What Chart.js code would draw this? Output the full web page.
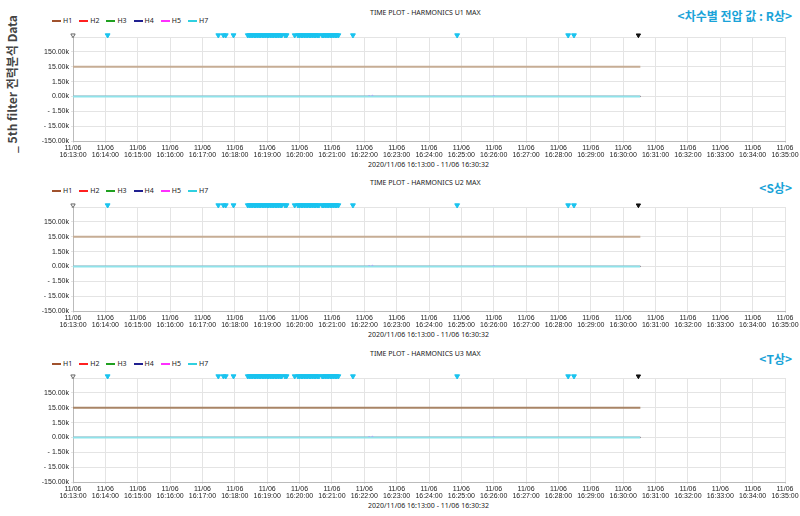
<!DOCTYPE html><html><head><meta charset="utf-8">
<script src="https://cdn.jsdelivr.net/npm/chart.js@4"></script>
<style>
body{margin:0;width:800px;height:516px;position:relative;font-family:"Noto Sans",sans-serif;background:#fff;overflow:hidden}
.t{position:absolute;font-size:7px;color:#222;white-space:nowrap}
.lg{position:absolute;left:52px;font-size:7px;color:#222;display:flex;gap:7px}
.lg span i{display:inline-block;width:9px;height:1.5px;vertical-align:middle;margin-right:2px}
.ph{position:absolute;right:8px;font-size:12px;color:#1aa3d8;font-weight:bold;font-family:"Noto Sans CJK KR"}
.side{position:absolute;left:-68px;top:76px;transform:rotate(-90deg);font-size:12px;font-weight:bold;color:#444;font-family:"Noto Sans CJK KR";width:160px;text-align:center;white-space:nowrap;line-height:16px}
canvas{position:absolute;left:0}
</style></head><body>
<div class="side">_ 5th filter 전력분석 Data</div>
<script>
const seriesNames=["H1","H2","H3","H4","H5","H7"];
const seriesColors=["#a0522d","#ff2020","#20a020","#202090","#ff30ff","#30d0e0"];
// time in minutes after 16:13:00
const times=[0,17.53];
const H1=[15000,15000];
const H2=[0,0],H3=[0,0],H4=[0,0],H5=[0,0],H7=[0,0];
const blipT=[9.15,9.25,13.0];
const blipV=[40,60,40];
const yTickLabels={"3":"150.00k","2":"15.00k","1":"1.50k","0":"0.00k","-1":"- 1.50k","-2":"- 15.00k","-3":"-150.00k"};
const markerTimes=[1.07,4.49,4.65,4.72,4.96,5.4,5.45,5.5,5.55,5.6,5.65,5.7,5.75,5.8,5.85,5.9,5.95,6.0,6.05,6.1,6.15,6.2,6.25,6.3,6.35,6.4,6.45,6.55,6.6,6.85,6.95,7.0,7.05,7.1,7.15,7.2,7.25,7.3,7.35,7.4,7.45,7.5,7.55,7.6,7.7,7.75,7.8,7.85,7.9,7.95,8.0,8.05,8.1,8.15,8.2,8.65,11.87,15.3,15.48];
const endMarker=17.47;
const titles=["TIME PLOT - HARMONICS  U1 MAX","TIME PLOT - HARMONICS  U2 MAX","TIME PLOT - HARMONICS  U3 MAX"];
const phases=["<차수별 전압 값 : R상>","<S상>","<T상>"];
const footer="2020/11/06 16:13:00 - 11/06 16:30:32";
const lvl=v=>Math.abs(v)<=1500?v/1500:Math.sign(v)*(Math.log10(Math.abs(v)/1500)+1);
const vals=[H1,H2,H3,H4,H5,H7];
const h1Colors=['#c6ad95','#c6ad95','#a88466'];
function pad(n){return String(n).padStart(2,'0')}
[0,170,341].forEach((off,ci)=>{
  const add=(cls,txt,css)=>{const d=document.createElement('div');d.className=cls;d.textContent=txt;Object.assign(d.style,css);document.body.appendChild(d);return d;};
  add('t',titles[ci],{left:'370px',top:(off+8)+'px'});
  add('t',footer,{left:'368px',top:(off+160)+'px'});
  add('ph',phases[ci],{top:(off+ (ci==0?7:9))+'px'});
  const lg=document.createElement('div');lg.className='lg';lg.style.top=(ci==2?off+18:off+16)+'px';
  seriesNames.forEach((n,i)=>{const s=document.createElement('span');s.innerHTML='<i style="background:'+seriesColors[i]+'"></i>'+n;lg.appendChild(s);});
  document.body.appendChild(lg);
  const c=document.createElement('canvas');c.style.top=(off+25)+'px';c.width=800;c.height=140;c.style.width='800px';c.style.height='140px';document.body.appendChild(c);
  const ds=seriesNames.map((n,i)=>({label:n,data:times.map((t,k)=>({x:t,y:lvl(vals[i][k])})),showLine:true,borderColor:i==0?h1Colors[ci]:(i==5?'#8fe3ea':seriesColors[i]),borderWidth:i==0?2:(i==5?2:1),pointRadius:0,order:i==0?1:(i==5?0:2)}));
  ds.push({label:'blip',data:blipT.map((t,k)=>({x:t,y:lvl(blipV[k])})),showLine:false,pointRadius:1,pointBackgroundColor:'#c080ff',borderWidth:0});
  ds.push({label:'m',data:markerTimes.map(t=>({x:t,y:4.12})),showLine:false,pointStyle:'triangle',rotation:180,pointRadius:2.8,backgroundColor:'#19c3ef',borderColor:'#19c3ef',clip:false});
  ds.push({label:'m0',data:[{x:0,y:4.12}],showLine:false,pointStyle:'triangle',rotation:180,pointRadius:2.5,backgroundColor:'#fff',borderColor:'#666',borderWidth:1,clip:false});
  ds.push({label:'me',data:[{x:endMarker,y:4.12}],showLine:false,pointStyle:'triangle',rotation:180,pointRadius:2.5,backgroundColor:'#111',borderColor:'#111',clip:false});
  new Chart(c,{type:'scatter',data:{datasets:ds},options:{responsive:false,animation:false,
    layout:{padding:{top:12,right:15,left:0,bottom:0}},
    plugins:{legend:{display:false},tooltip:{enabled:false}},
    scales:{
      x:{type:'linear',min:0,max:22,afterFit:s=>{s.height=24},border:{color:'#bbb'},grid:{color:'#e4e4e4',tickLength:2},
        ticks:{stepSize:1,maxRotation:0,autoSkip:false,font:{size:7,lineHeight:1.05},color:'#222',padding:1,
          callback:v=>['11/06','16:'+pad(13+v)+':00']}},
      y:{min:-3,max:4,afterFit:s=>{s.width=73},border:{color:'#bbb'},grid:{color:'#e4e4e4',tickLength:2},
        ticks:{stepSize:1,font:{size:7},color:'#222',padding:2,callback:v=>yTickLabels[String(v)]||''}}
    }}});
});
</script></body></html>
